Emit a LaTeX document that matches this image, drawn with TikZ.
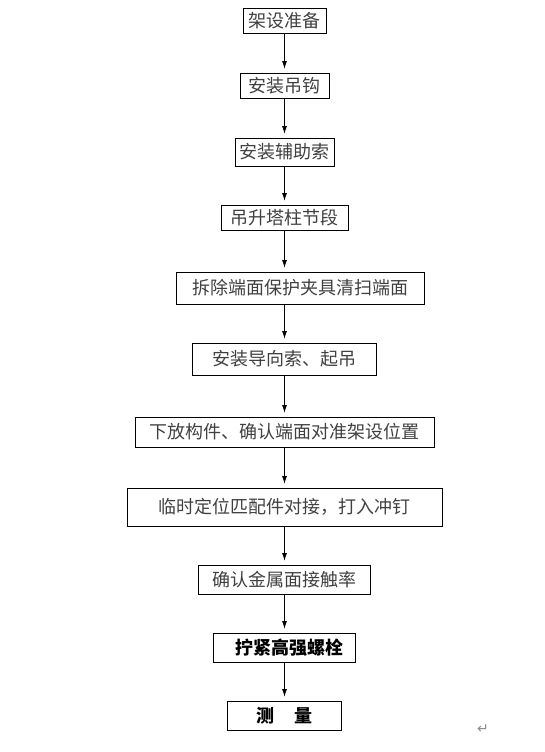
\documentclass[tikz,border=0pt]{standalone}
\usepackage{fontspec}
\newfontfamily\cjk{Noto Sans CJK SC}
\newfontfamily\dejavu{DejaVu Sans}
\usetikzlibrary{arrows.meta}
\begin{document}
\begin{tikzpicture}[x=1pt,y=-1pt,
  procbox/.style={draw, line width=0.9pt, inner sep=0pt, text=black!75,
    font=\cjk\fontsize{18}{20}\selectfont},
  boldbox/.style={procbox, text=black, font=\cjk\bfseries\fontsize{18}{20}\selectfont},
  flowarrow/.style={line width=1pt, -{Latex[length=8pt,width=5pt]}, shorten >=3.5pt}]
  \useasboundingbox (0,0) rectangle (544,752);
  \node[procbox, minimum width=83pt, minimum height=25pt] (prep) at (284.5,20.5) {架设准备};
  \node[procbox, minimum width=89pt, minimum height=25pt] (hook) at (284.5,85.5) {安装吊钩};
  \node[procbox, minimum width=99pt, minimum height=28pt] (auxrope) at (284.5,152) {安装辅助索};
  \node[procbox, minimum width=127pt, minimum height=25pt] (lift) at (284.5,217.5) {吊升塔柱节段};
  \node[procbox, minimum width=248pt, minimum height=32pt] (clean) at (300,288) {拆除端面保护夹具清扫端面\hspace{0.3em}};
  \node[procbox, minimum width=184pt, minimum height=32pt] (guide) at (284.5,359) {安装导向索、起吊\hspace{1em}};
  \node[procbox, minimum width=299pt, minimum height=30pt] (lower) at (284.5,432) {下放构件、确认端面对准架设位置};
  \node[procbox, minimum width=315pt, minimum height=38pt] (match) at (284.5,507) {临时定位匹配件对接，打入冲钉};
  \node[procbox, minimum width=172pt, minimum height=29pt] (contact) at (284.5,579.5) {确认金属面接触率};
  \node[boldbox, minimum width=142pt, minimum height=29pt] (bolt) at (284.5,647.5) {\hspace{0.5em}拧紧高强螺栓};
  \node[boldbox, minimum width=114pt, minimum height=29pt] (survey) at (284.5,715.5) {测\hspace{1.1em}量};
  \node[text=black!45, font=\dejavu\fontsize{14}{14}\selectfont] (mark) at (483,729) {↵};
  % connectors
  \foreach \a/\b in {prep/hook, hook/auxrope, auxrope/lift, lift/clean, guide/lower, lower/match, match/contact, contact/bolt, bolt/survey}
    \draw[flowarrow] (\a.south) -- (\a.south |- \b.north);
  \draw[flowarrow] (guide.north |- clean.south) -- (guide.north);
\end{tikzpicture}
\end{document}
